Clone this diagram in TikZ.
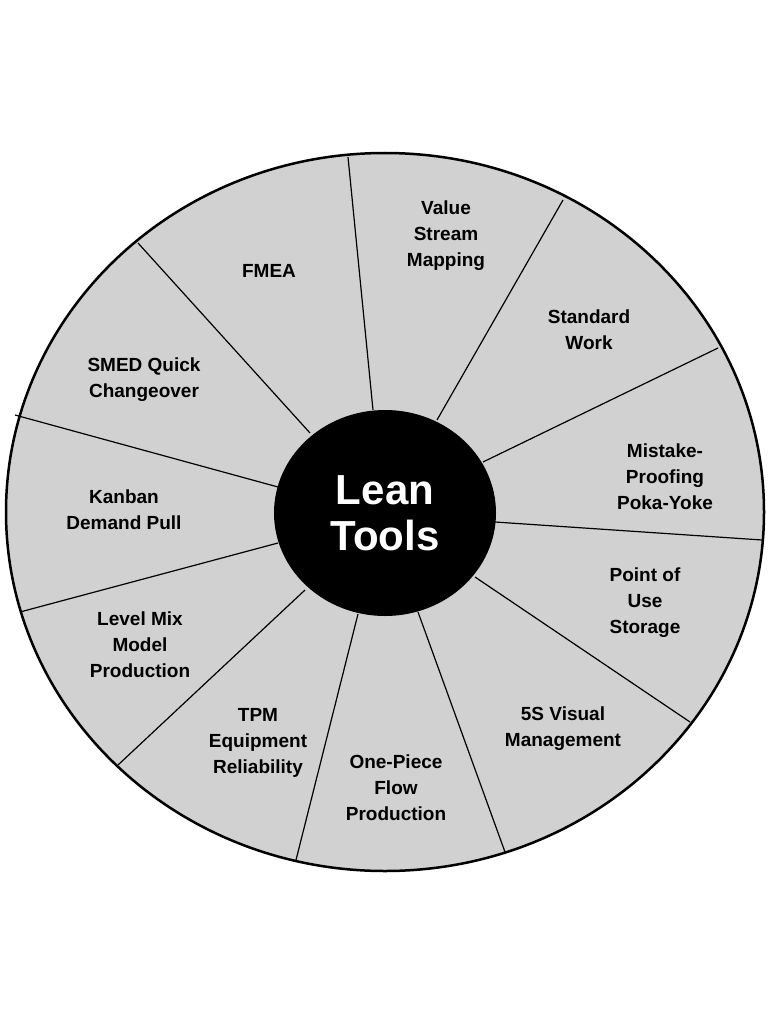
\documentclass[tikz,border=0pt]{standalone}
\usepackage{fontspec}
\setmainfont{Liberation Sans}
\usetikzlibrary{shapes.geometric}
\begin{document}
\begin{tikzpicture}[x=1pt,y=-1pt,
  lbl/.style={align=center,font=\bfseries\fontsize{19}{26}\selectfont},
  spoke/.style={draw=black,line width=1.2pt}]
\useasboundingbox (0,0) rectangle (768,1024);
\fill[white] (0,0) rectangle (768,1024);
\draw[fill=black!18,line width=2.5pt] (385,512) ellipse [x radius=379,y radius=359];
\foreach \a/\b/\c/\d [count=\i] in {348/157/373/410, 563/200/437/420, 718/348/483/462, 762/540/495/522, 690/722/475/577, 505/852/418/612, 296/860/358/614, 118/765/305/590, 20/612/278/543, 15/415/278/487, 138/243/310/433}{
  \coordinate (o\i) at (\a,\b);
  \coordinate (n\i) at (\c,\d);
  \draw[spoke] (o\i) -- (n\i);
}
\node[ellipse,fill=black,minimum width=222pt,minimum height=206pt,inner sep=0pt] (hub) at (385,513) {};
\node[lbl,text=white,font=\bfseries\fontsize{42}{46}\selectfont] (lean) at (385,513) {Lean\\Tools};
\node[lbl] (vsm) at (446,236) {Value\\Stream\\Mapping};
\node[lbl] (sw) at (589,330) {Standard\\Work};
\node[lbl] (mp) at (665,477) {Mistake-\\Proofing\\Poka-Yoke};
\node[lbl] (pus) at (645,603) {Point of\\Use\\Storage};
\node[lbl] (fs) at (563,729) {5S Visual\\Management};
\node[lbl] (opf) at (396,788) {One-Piece\\Flow\\Production};
\node[lbl] (tpm) at (258,743) {TPM\\Equipment\\Reliability};
\node[lbl] (lm) at (140,645) {Level Mix\\Model\\Production};
\node[lbl] (kb) at (124,510) {Kanban\\Demand Pull};
\node[lbl] (smed) at (144,380) {SMED Quick\\Changeover};
\node[lbl] (fmea) at (269,271) {FMEA};
\end{tikzpicture}
\end{document}
